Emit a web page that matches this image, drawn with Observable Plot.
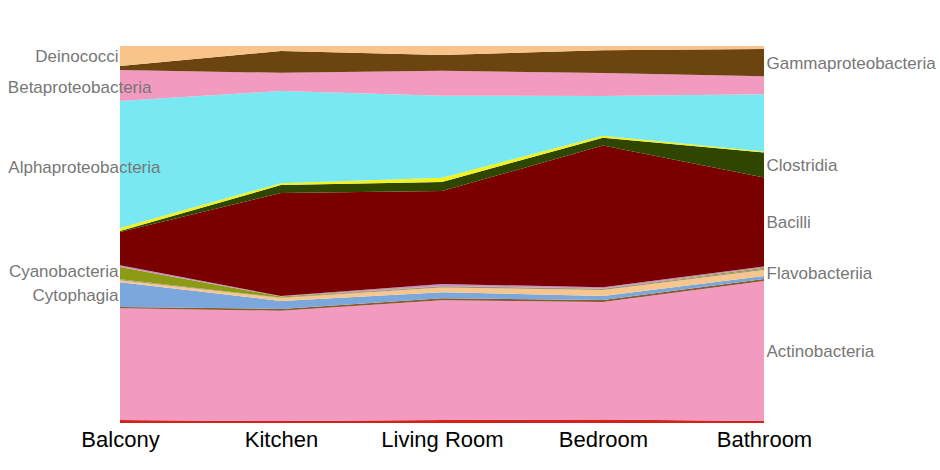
<!DOCTYPE html>
<html>
<head>
<meta charset="utf-8">
<script src="https://cdn.jsdelivr.net/npm/d3@7"></script>
<script src="https://cdn.jsdelivr.net/npm/@observablehq/plot@0.6"></script>
<style>
  body { margin: 0; background: #fff; }
  #chart { width: 940px; height: 470px; }
</style>
</head>
<body>
<div id="chart"></div>
<script>
// Categories (x)
const sites = ["Balcony", "Kitchen", "Living Room", "Bedroom", "Bathroom"];

// Taxa, stacked bottom to top
const taxa = [
  "Other A", "Actinobacteria", "Other B", "Cytophagia", "Flavobacteriia",
  "Other C", "Cyanobacteria", "Other D", "Bacilli", "Clostridia", "Other E",
  "Alphaproteobacteria", "Betaproteobacteria", "Gammaproteobacteria", "Deinococci"
];
const colors = [
  "#d2231b", "#f29ac0", "#8b5a2b", "#7ba7dc", "#f7c68c",
  "#a09080", "#8c9a14", "#c98fbf", "#7a0000", "#2e4600", "#f2f21f",
  "#78e8f3", "#f29ac0", "#6b4410", "#f9c48a"
];

// Relative abundance (%) per site, in the order of `sites`
const otherA              = [0.8, 0.5, 0.8, 0.9, 0.5];
const actinobacteria      = [29.7, 29.2, 31.8, 31.3, 37.1];
const otherB              = [0.3, 0.5, 0.5, 0.5, 0.5];
const cytophagia          = [6.6, 2.1, 1.6, 1.1, 0.8];
const flavobacteriia      = [0.5, 0.8, 1.3, 1.6, 1.6];
const otherC              = [0.3, 0.1, 0.3, 0.3, 0.3];
const cyanobacteria       = [3.2, 0.3, 0.1, 0.1, 0.3];
const otherD              = [0.5, 0.1, 0.5, 0.3, 0.3];
const bacilli             = [8.8, 27.3, 24.7, 37.7, 23.6];
const clostridia          = [0.3, 2.1, 2.4, 2.1, 6.6];
const otherE              = [0.8, 0.5, 1.1, 0.5, 0.3];
const alphaproteobacteria = [33.7, 24.4, 21.8, 10.6, 15.1];
const betaproteobacteria  = [8.2, 4.8, 6.6, 6.1, 4.8];
const gammaproteobacteria = [1.1, 5.8, 4.2, 6.1, 7.2];
const deinococci          = [5.3, 1.3, 2.4, 1.1, 0.8];

const series = [
  otherA, actinobacteria, otherB, cytophagia, flavobacteriia,
  otherC, cyanobacteria, otherD, bacilli, clostridia, otherE,
  alphaproteobacteria, betaproteobacteria, gammaproteobacteria, deinococci
];

// Labels shown at each side
const leftLabels = ["Deinococci", "Betaproteobacteria", "Alphaproteobacteria", "Cyanobacteria", "Cytophagia"];
const rightLabels = ["Gammaproteobacteria", "Clostridia", "Bacilli", "Flavobacteriia", "Actinobacteria"];

// Build long table
const data = [];
sites.forEach((site, si) => {
  taxa.forEach((taxon, ti) => {
    data.push({site, taxon, value: series[ti][si]});
  });
});

// label offsets (style)
const leftShift = {
  "Deinococci": -2, "Betaproteobacteria": 31, "Alphaproteobacteria": 40,
  "Cyanobacteria": -2, "Cytophagia": -2
};
const leftDy = {"Cyanobacteria": -2, "Betaproteobacteria": 2, "Alphaproteobacteria": 3};

const stackOpts = {x: "site", y: "value", z: "taxon", offset: "normalize"};
const labelStyle = {text: "taxon", fill: "#777777", fontSize: 17};

const leftMarks = leftLabels.map(name =>
  Plot.text(data, Plot.filter(d => d.site === sites[0] && d.taxon === name,
    Plot.stackY({...stackOpts, ...labelStyle, textAnchor: "end", dx: leftShift[name], dy: leftDy[name] || 0})))
);
const rightMarks = rightLabels.map(name =>
  Plot.text(data, Plot.filter(d => d.site === sites[sites.length - 1] && d.taxon === name,
    Plot.stackY({...stackOpts, ...labelStyle, textAnchor: "start", dx: 2})))
);

const chart = Plot.plot({
  width: 940,
  height: 470,
  marginLeft: 118,
  marginRight: 175,
  marginTop: 46,
  marginBottom: 47,
  style: {fontFamily: "'Liberation Sans', Arial, sans-serif", background: "#fff", overflow: "visible"},
  x: {type: "point", domain: sites, padding: 0},
  y: {axis: null, domain: [0, 1]},
  color: {domain: taxa, range: colors},
  marks: [
    Plot.areaY(data, {...stackOpts, fill: "taxon", curve: "linear"}),
    Plot.axisX({tickSize: 0, tickPadding: 8, fontSize: 22, fill: "#000", label: null}),
    ...leftMarks,
    ...rightMarks
  ]
});
document.getElementById("chart").appendChild(chart);
</script>
</body>
</html>
